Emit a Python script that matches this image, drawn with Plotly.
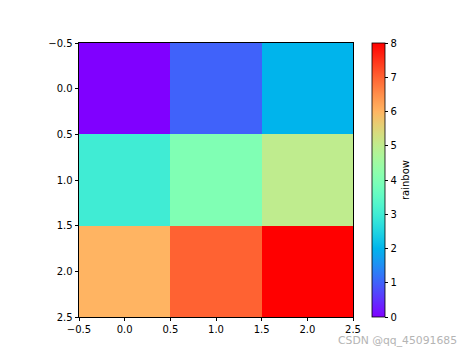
import numpy as np
import plotly.graph_objects as go

# Data
z_values = [[0, 1, 2],
            [3, 4, 5],
            [6, 7, 8]]
x_cols = [0, 1, 2]
y_rows = [0, 1, 2]
axis_ticks = [-0.5, 0.0, 0.5, 1.0, 1.5, 2.0, 2.5]
cbar_ticks = [0, 1, 2, 3, 4, 5, 6, 7, 8]
cbar_label = "rainbow"
watermark = "CSDN @qq_45091685"

# matplotlib 'rainbow' colormap
def rainbow(t):
    r = min(1, max(0, abs(2 * t - 0.5)))
    g = min(1, max(0, np.sin(np.pi * t)))
    b = min(1, max(0, np.cos(np.pi * t / 2)))
    return f"rgb({round(r*255)},{round(g*255)},{round(b*255)})"

scale = [[i / 64, rainbow(i / 64)] for i in range(65)]

W, H = 474, 355
L, R, T, B = 79, 121, 43, 38
pw = W - L - R
ph = H - T - B

font = dict(family="DejaVu Sans", size=10, color="black")

fig = go.Figure(go.Heatmap(
    z=z_values, x=x_cols, y=y_rows, colorscale=scale, zmin=0, zmax=8,
    zsmooth=False,
    colorbar=dict(
        x=(372 - L) / pw, xanchor="left", xref="paper",
        y=0.5, yanchor="middle", len=1, lenmode="fraction",
        thickness=13, thicknessmode="pixels",
        outlinewidth=0.8, outlinecolor="black",
        tickvals=cbar_ticks, ticks="outside", ticklen=3.5, tickwidth=0.8,
        tickcolor="black", tickfont=font, xpad=0, ypad=0,
    ),
))

fig.add_annotation(text=cbar_label, xref="paper", yref="paper",
                   x=(405 - L) / pw, y=0.5, textangle=-90, showarrow=False,
                   font=font, xanchor="center", yanchor="middle")
fig.add_annotation(text=watermark, xref="paper", yref="paper",
                   x=(397 - L) / pw, y=-(341 - T - ph) / ph, showarrow=False,
                   font=dict(family="DejaVu Sans", size=10.8, color="#b4b4b4"),
                   xanchor="center", yanchor="middle")

axis_common = dict(
    tickvals=axis_ticks, tickformat=".1f", ticks="outside", ticklen=3.5,
    tickwidth=0.8, tickcolor="black", showline=True, linecolor="black",
    linewidth=0.8, mirror=True, showgrid=False, zeroline=False,
    tickfont=font,
)
fig.update_xaxes(range=[-0.5, 2.5], constrain="domain", **axis_common)
fig.update_yaxes(range=[2.5, -0.5], **axis_common)

fig.update_layout(
    width=W, height=H,
    margin=dict(l=L, r=R, t=T, b=B),
    paper_bgcolor="white", plot_bgcolor="white",
    font=font,
)

fig.write_html("out.html")
